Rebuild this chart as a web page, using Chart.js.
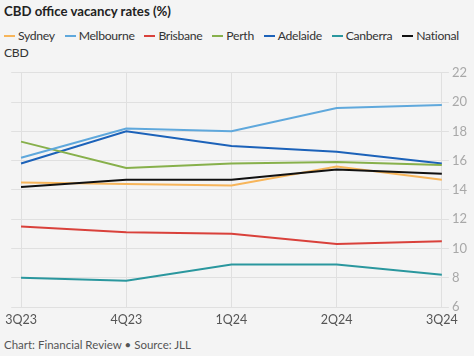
<!DOCTYPE html>
<html>
<head>
<meta charset="utf-8">
<script src="https://cdn.jsdelivr.net/npm/chart.js@4.4.0/dist/chart.umd.min.js"></script>
<style>
  html, body { margin: 0; padding: 0; background: #f4f4f4; }
  body { width: 474px; height: 356px; position: relative; overflow: hidden; font-family: Lato, "Open Sans", sans-serif; }
  #title { position: absolute; left: 4px; top: 3px; font-size: 13.2px; font-weight: bold; color: #222; }
  #legend { position: absolute; left: 4px; top: 27px; width: 462px; font-size: 12.2px; letter-spacing: -0.3px; color: #333; line-height: 17px; }
  #legend span.item { white-space: nowrap; margin-right: 7px; }
  #legend span.sw { display: inline-block; width: 11px; height: 2px; vertical-align: middle; margin-right: 3px; position: relative; top: -1px; }
  #wrap { position: absolute; left: 0; top: 62px; width: 474px; height: 270px; }
  #footer { position: absolute; left: 4px; top: 338px; font-size: 11.5px; color: #555; }
</style>
</head>
<body>
<div id="title">CBD office vacancy rates (%)</div>
<div id="legend"></div>
<div id="wrap"><canvas id="c"></canvas></div>
<div id="footer">Chart: Financial Review • Source: JLL</div>
<script>
const categories = ["3Q23", "4Q23", "1Q24", "2Q24", "3Q24"];
const seriesNames = ["Sydney", "Melbourne", "Brisbane", "Perth", "Adelaide", "Canberra", "National CBD"];
const sydney    = [14.5, 14.4, 14.3, 15.6, 14.7];
const melbourne = [16.2, 18.2, 18.0, 19.6, 19.8];
const brisbane  = [11.5, 11.1, 11.0, 10.3, 10.5];
const perth     = [17.3, 15.5, 15.8, 15.9, 15.7];
const adelaide  = [15.8, 18.0, 17.0, 16.6, 15.8];
const canberra  = [8.0, 7.8, 8.9, 8.9, 8.2];
const national  = [14.2, 14.7, 14.7, 15.4, 15.1];
const yTicks = [6, 8, 10, 12, 14, 16, 18, 20, 22];

const seriesValues = [sydney, melbourne, brisbane, perth, adelaide, canberra, national];
const colors = ["#f7b55a", "#5fa8dc", "#d9413b", "#87b04b", "#1c62b9", "#2a979e", "#111111"];

// HTML legend
const legend = document.getElementById('legend');
seriesNames.forEach((n, i) => {
  const s = document.createElement('span');
  s.className = 'item';
  const words = n.split(' ');
  s.innerHTML = '<span class="sw" style="background:' + colors[i] + '"></span>' + words[0];
  if (words.length > 1) s.style.marginRight = '0';
  legend.appendChild(s);
  if (words.length > 1) {
    legend.appendChild(document.createTextNode(' ' + words.slice(1).join(' ')));
  }
  legend.appendChild(document.createTextNode(' '));
});

const datasets = seriesNames.map((n, i) => ({
  label: n,
  data: seriesValues[i].map((v, j) => ({ x: j, y: v })),
  borderColor: colors[i],
  backgroundColor: colors[i],
  borderWidth: 2,
  pointRadius: 0,
  tension: 0,
  order: i === 6 ? 0 : 1
}));

new Chart(document.getElementById('c'), {
  type: 'line',
  data: { datasets },
  options: {
    responsive: true,
    maintainAspectRatio: false,
    animation: false,
    layout: { padding: { left: 7, right: 4, top: 8, bottom: 0 } },
    plugins: { legend: { display: false }, tooltip: { enabled: false } },
    scales: {
      x: {
        type: 'linear',
        min: -0.0935,
        max: categories.length - 1,
        grid: { color: '#e0e0e0', lineWidth: 1, drawTicks: false },
        border: { display: false },
        ticks: {
          includeBounds: false,
          stepSize: 1,
          padding: 5,
          maxRotation: 0,
          color: '#555',
          font: { family: 'Lato', size: 12.5 },
          callback: v => categories[v] ?? ''
        }
      },
      y: {
        position: 'right',
        min: yTicks[0],
        max: yTicks[yTicks.length - 1],
        afterBuildTicks: axis => { axis.ticks = yTicks.map(v => ({ value: v })); },
        grid: { color: '#e0e0e0', lineWidth: 1, drawTicks: true, tickLength: 7 },
        border: { display: false },
        ticks: {
          padding: 3,
          color: '#a8a8a8',
          font: { family: 'Lato', size: 13 }
        }
      }
    }
  }
});
</script>
</body>
</html>
